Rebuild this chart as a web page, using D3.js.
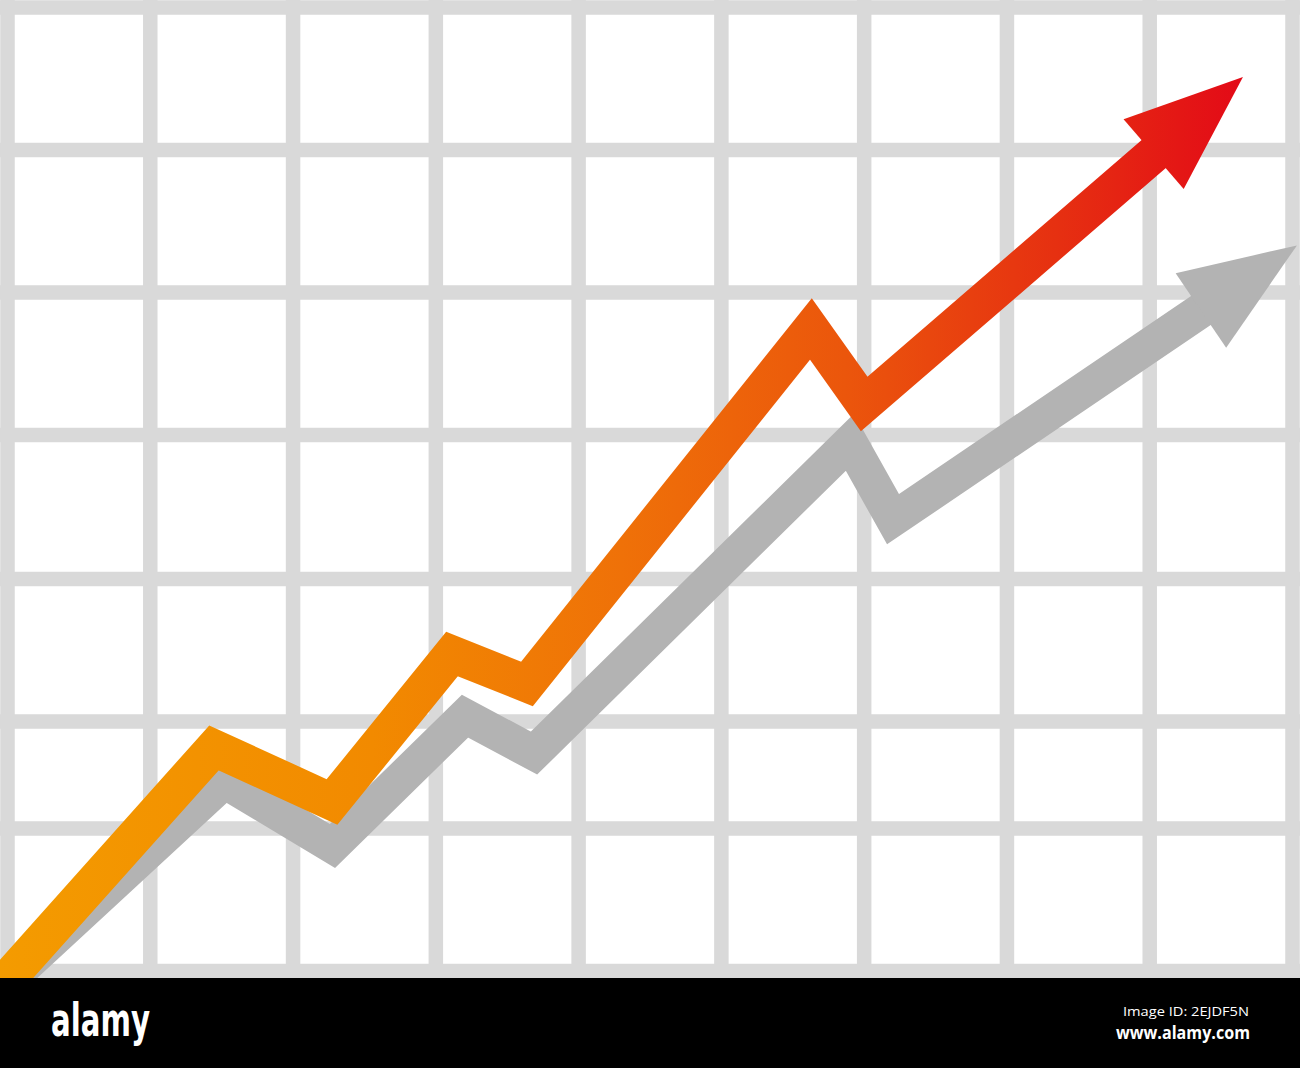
<!DOCTYPE html>
<html>
<head>
<meta charset="utf-8">
<script src="https://cdn.jsdelivr.net/npm/d3@7"></script>
<style>
    html, body { margin: 0; padding: 0; background: #ffffff; overflow: hidden; }
    svg { display: block; }
</style>
</head>
<body>
<div id="chart"></div>
<script>
// grid positions, in grid units
const columnTicks = [0, 1, 2, 3, 4, 5, 6, 7, 8, 9];
const rowTicks = [0, 1, 1.75, 2.75, 3.76, 4.76, 5.76, 6.76];

// main (orange to red) trend, last point is the arrow tip
const trendX = [-0.263, 1.446, 2.273, 3.113, 3.638, 5.627, 6.0, 8.653];
const trendY = [-0.351, 1.565, 1.186, 2.224, 2.014, 4.504, 3.978, 6.272];

// grey shadow trend
const shadowX = [-0.2, 1.52, 2.276, 3.204, 3.688, 5.9, 6.202, 9.031];
const shadowY = [-0.26, 1.332, 0.877, 1.788, 1.529, 3.71, 3.17, 5.091];

const footerLines = ["Image ID: 2EJDF5N", "www.alamy.com"];

const width = 1300;
const height = 1068;
const chartBottom = 978;
const gridColor = "#d9d9d9";

const svg = d3.select("#chart").append("svg")
    .attr("width", width)
    .attr("height", height);

const x = d3.scaleLinear().domain([0, 9]).range([7.5, 1292.5]);
const y = d3.scaleLinear().domain([0, 6.76]).range([971, 7.5]);

svg.append("rect")
    .attr("width", width)
    .attr("height", chartBottom)
    .attr("fill", "#ffffff");

const defs = svg.append("defs");
const gradient = defs.append("linearGradient")
    .attr("id", "trend-gradient")
    .attr("gradientUnits", "userSpaceOnUse")
    .attr("x1", 0).attr("y1", 0)
    .attr("x2", x(trendX[trendX.length - 1])).attr("y2", 0);

[[0, "#f49b00"], [0.3, "#f28a00"], [0.5, "#ef7108"], [0.68, "#eb560c"], [0.85, "#e63011"], [1, "#e30a17"]]
    .forEach(([offset, color]) => {
        gradient.append("stop").attr("offset", offset).attr("stop-color", color);
    });

defs.append("clipPath").attr("id", "chart-clip")
    .append("rect").attr("width", width).attr("height", chartBottom);

// grid
const grid = svg.append("g").attr("class", "grid");

grid.selectAll("line.col")
    .data(columnTicks)
    .enter()
    .append("line")
    .attr("class", "col")
    .attr("x1", d => x(d)).attr("x2", d => x(d))
    .attr("y1", 0).attr("y2", chartBottom)
    .attr("stroke", gridColor)
    .attr("stroke-width", 14.5);

grid.selectAll("line.row")
    .data(rowTicks)
    .enter()
    .append("line")
    .attr("class", "row")
    .attr("x1", 0).attr("x2", width)
    .attr("y1", d => y(d)).attr("y2", d => y(d))
    .attr("stroke", gridColor)
    .attr("stroke-width", 14.5);

const drawArrow = (xs, ys, fill, strokeWidth, headLength, headHalf) => {
    const points = xs.map((v, i) => [x(v), y(ys[i])]);
    const tip = points[points.length - 1];
    const prev = points[points.length - 2];
    const dx = tip[0] - prev[0];
    const dy = tip[1] - prev[1];
    const len = Math.hypot(dx, dy);
    const ux = dx / len, uy = dy / len;
    const base = [tip[0] - ux * headLength, tip[1] - uy * headLength];
    const shaftEnd = [base[0] + ux * 4, base[1] + uy * 4];

    const group = svg.append("g").attr("clip-path", "url(#chart-clip)");

    group.append("path")
        .datum([...points.slice(0, -1), shaftEnd])
        .attr("d", d3.line())
        .attr("fill", "none")
        .attr("stroke", fill)
        .attr("stroke-width", strokeWidth)
        .attr("stroke-linejoin", "miter")
        .attr("stroke-miterlimit", 10);

    const head = [
        tip,
        [base[0] - uy * headHalf, base[1] + ux * headHalf],
        [base[0] + uy * headHalf, base[1] - ux * headHalf]
    ];
    group.append("path")
        .attr("d", d3.line()(head) + "Z")
        .attr("fill", fill);
}

drawArrow(shadowX, shadowY, "#b3b3b3", 35, 116, 45);
drawArrow(trendX, trendY, "url(#trend-gradient)", 37, 118, 46);

// footer bar
svg.append("rect")
    .attr("y", chartBottom)
    .attr("width", width)
    .attr("height", height - chartBottom)
    .attr("fill", "#000000");

svg.append("text")
    .attr("x", 51)
    .attr("y", 1036)
    .attr("fill", "#ffffff")
    .style("font-family", "'Liberation Sans Narrow', 'DejaVu Sans Condensed', sans-serif")
    .style("font-weight", "bold")
    .style("font-size", "46px")
    .attr("textLength", 99)
    .attr("lengthAdjust", "spacingAndGlyphs")
    .text("alamy");

svg.append("text")
    .attr("x", 1249)
    .attr("y", 1016)
    .attr("text-anchor", "end")
    .attr("fill", "#ffffff")
    .style("font-family", "'Open Sans', sans-serif")
    .style("font-size", "13.5px")
    .attr("textLength", 126)
    .attr("lengthAdjust", "spacingAndGlyphs")
    .text(footerLines[0]);

svg.append("text")
    .attr("x", 1250)
    .attr("y", 1039)
    .attr("text-anchor", "end")
    .attr("fill", "#ffffff")
    .style("font-family", "'Open Sans', sans-serif")
    .style("font-weight", "bold")
    .style("font-size", "18px")
    .attr("textLength", 134)
    .attr("lengthAdjust", "spacingAndGlyphs")
    .text(footerLines[1]);
</script>
</body>
</html>
